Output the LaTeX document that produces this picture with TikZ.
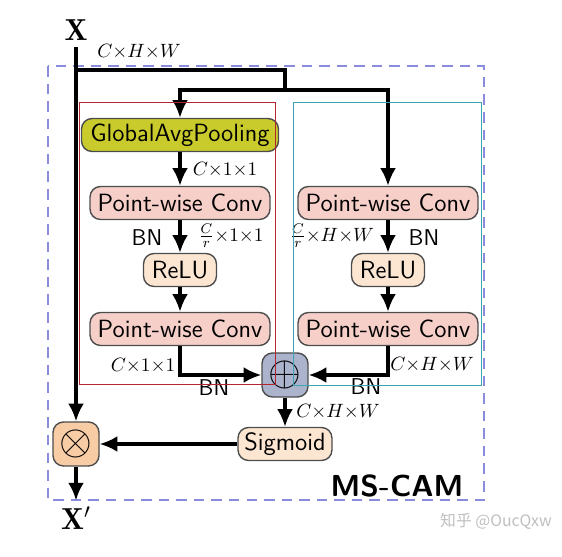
\documentclass[tikz,border=0pt]{standalone}
\usepackage{fontspec}
\newfontfamily\cjkfont{Noto Sans CJK SC}
\usetikzlibrary{arrows.meta}
\definecolor{gapfill}{HTML}{C9CB2C}
\definecolor{convfill}{HTML}{F6CFC9}
\definecolor{actfill}{HTML}{FCE6D2}
\definecolor{mulfill}{HTML}{F8CDA6}
\definecolor{addfill}{HTML}{ABB4CC}
\definecolor{camline}{HTML}{8C8CDC}
\definecolor{localline}{HTML}{B22631}
\definecolor{globalline}{HTML}{3AA6B4}
\begin{document}
\begin{tikzpicture}[x=0.02cm, y=-0.02cm,
  block/.style={draw=black!70, rounded corners=6pt, thick, font=\sffamily\fontsize{14.2}{17}\selectfont, inner sep=2pt, minimum height=0.66cm},
  conv/.style={block, fill=convfill, minimum width=3.6cm},
  act/.style={block, fill=actfill, minimum width=1.46cm},
  op/.style={draw=black!70, rounded corners=6pt, thick, minimum width=0.92cm, minimum height=0.88cm, inner sep=0pt},
  flow/.style={-{Latex[length=10pt,width=9pt]}, line width=1.8pt},
  dim/.style={font=\fontsize{10.8}{13}\selectfont},
  bn/.style={font=\sffamily\fontsize{13}{16}\selectfont}]
\useasboundingbox (0,0) rectangle (562,557);

\draw[camline, dashed, line width=1.2pt, dash pattern=on 6pt off 4pt] (48,66) rectangle (484,500);

\node (x) at (76,30) {\LARGE$\mathbf{X}$};
\node (xo) at (76,518) {\LARGE$\mathbf{X}'$};

\node[block, fill=gapfill, minimum width=3.94cm] (gap) at (180,135) {GlobalAvgPooling};
\node[conv] (pwcL1) at (180,203) {Point-wise Conv};
\node[act] (reluL) at (180,270) {ReLU};
\node[conv] (pwcL2) at (180,329) {Point-wise Conv};

\node[conv] (pwcR1) at (388,203) {Point-wise Conv};
\node[act] (reluR) at (388,270) {ReLU};
\node[conv] (pwcR2) at (388,329) {Point-wise Conv};

\node[op, fill=addfill] (add) at (285,375) {\scalebox{2.4}{$\oplus$}};
\node[block, fill=actfill, minimum width=1.88cm] (sig) at (285,444) {Sigmoid};
\node[op, fill=mulfill] (mul) at (76,444) {\scalebox{2.4}{$\otimes$}};

\node[font=\LARGE\sffamily\bfseries] (cam) at (397,486) {MS-CAM};

\coordinate (split) at (76,70);
\coordinate (turn) at (285,90);

\draw[line width=1.8pt] (split) -| (turn);
\draw[flow] (turn) -| (gap.north);
\draw[flow] (turn) -| (pwcR1.north);
\draw[flow] (x) -- (mul);

\draw[flow] (gap) -- (pwcL1);
\draw[flow] (pwcL1) -- (reluL);
\draw[flow] (reluL) -- (pwcL2);
\draw[flow] (pwcL2.south) |- (add.west);

\draw[flow] (pwcR1) -- (reluR);
\draw[flow] (reluR) -- (pwcR2);
\draw[flow] (pwcR2.south) |- (add.east);

\draw[flow] (add) -- (sig);
\draw[flow] (sig) -- (mul);
\draw[flow] (mul) -- (xo);

% sizes along the arrows
\node[dim] (d0) at (139,52) {$C{\times}H{\times}W$};
\node[dim] (d1) at (225,170) {$C{\times}1{\times}1$};
\node[bn] (b1) at (147,238) {BN};
\node[dim] (d2) at (231,236) {$\frac{C}{r}{\times}1{\times}1$};
\node[dim] (d3) at (332,236) {$\frac{C}{r}{\times}H{\times}W$};
\node[bn] (b2) at (424,238) {BN};
\node[dim] (d4) at (143,366) {$C{\times}1{\times}1$};
\node[bn] (b3) at (214,388) {BN};
\node[dim] (d5) at (432,365) {$C{\times}H{\times}W$};
\node[bn] (b4) at (366,387) {BN};
\node[dim] (d6) at (338,412) {$C{\times}H{\times}W$};

\draw[localline] (79,102) rectangle (275,384);
\draw[globalline] (293,102) rectangle (481,385);

\node[text=black!25, font=\cjkfont\small] (wm) at (496,521) {知乎 @OucQxw};
\end{tikzpicture}
\end{document}
